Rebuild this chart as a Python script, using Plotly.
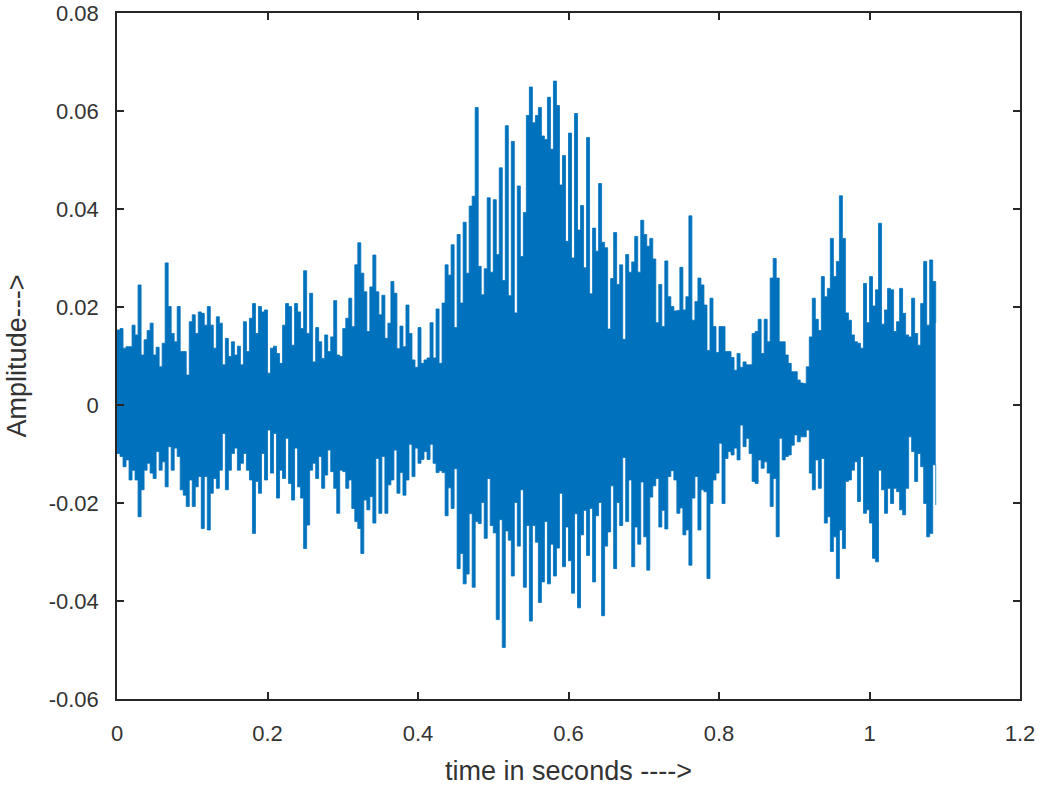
import numpy as np
import plotly.graph_objects as go

fs_block = 250  # blocks per second

hi = [
    .0153, .0156, .0116, .0119, .0119, .0163, .0143, .0245, .0102, .0133,
    .0152, .0167, .0102, .0118, .0078, .0126, .0290, .0201, .0146, .0129,
    .0201, .0109, .0109, .0061, .0170, .0184, .0146, .0190, .0187, .0163,
    .0201, .0163, .0116, .0180, .0167, .0082, .0136, .0099, .0129, .0102,
    .0120, .0082, .0170, .0109, .0177, .0207,
    .0146, .0201, .0190, .0194, .0065, .0116, .0120, .0105, .0085, .0163,
    .0207, .0201, .0122, .0207, .0190, .0156, .0274, .0146, .0228, .0088,
    .0158, .0129, .0095, .0143, .0109, .0139, .0213, .0102, .0099, .0156,
    .0177, .0218, .0160, .0286, .0331, .0269, .0231, .0150, .0241, .0306,
    .0231, .0184, .0224, .0136, .0167, .0252, .0228,
    .0115, .0161, .0119, .0204, .0146, .0092, .0077, .0158, .0085, .0092,
    .0096, .0168, .0096, .0196, .0085, .0208, .0286, .0265, .0327, .0158,
    .0348, .0208, .0373, .0269, .0406, .0426, .0607, .0283, .0225, .0278,
    .0423, .0271, .0419, .0307, .0484, .0254, .0570, .0223, .0538, .0188,
    .0447, .0303, .0393, .0591, .0649, .0576,
    .0591, .0607, .0549, .0542, .0628, .0522, .0661, .0611, .0449, .0509,
    .0334, .0555, .0300, .0595, .0357, .0407, .0280, .0546, .0227, .0361,
    .0314, .0452, .0332, .0321, .0155, .0258, .0352, .0246, .0286, .0134,
    .0307, .0271, .0292, .0344, .0271, .0377, .0348, .0324, .0340, .0298,
    .0168, .0246, .0160, .0294, .0221, .0201, .0192,
    .0193, .0281, .0194, .0221, .0386, .0173, .0211, .0259, .0245, .0204,
    .0111, .0218, .0160, .0107, .0160, .0160, .0109, .0109, .0097, .0071,
    .0105, .0077, .0088, .0082, .0082, .0146, .0150, .0175, .0105, .0175,
    .0129, .0259, .0299, .0259, .0129, .0129, .0102, .0085, .0068, .0068,
    .0051, .0045, .0044, .0078, .0139, .0218,
    .0175, .0152, .0262, .0221, .0238, .0340, .0262, .0293, .0427, .0340,
    .0188, .0173, .0143, .0129, .0126, .0116, .0248, .0168, .0262, .0202,
    .0235, .0371, .0165, .0194, .0238, .0235, .0150, .0170, .0238, .0187,
    .0143, .0139, .0218, .0146, .0122, .0207, .0293, .0163, .0296, .0252,
    .0167,
]

lo = [
    -.0099, -.0105, -.0126, -.0112, -.0153, -.0133, -.0153, -.0228, -.0173, -.0133,
    -.0119, -.0139, -.0150, -.0095, -.0133, -.0116, -.0167, -.0085, -.0133, -.0088,
    -.0105, -.0173, -.0184, -.0207, -.0153, -.0207, -.0167, -.0146, -.0252, -.0146,
    -.0255, -.0180, -.0150, -.0170, -.0133, -.0058, -.0173, -.0133, -.0099, -.0088,
    -.0133, -.0119, -.0099, -.0133, -.0153, -.0262,
    -.0156, -.0180, -.0099, -.0153, -.0051, -.0139, -.0058, -.0190, -.0133, -.0150,
    -.0068, -.0160, -.0194, -.0088, -.0167, -.0190, -.0293, -.0245, -.0133, -.0119,
    -.0150, -.0105, -.0170, -.0143, -.0092, -.0136, -.0170, -.0221, -.0133, -.0136,
    -.0170, -.0153, -.0211, -.0238, -.0252, -.0303, -.0194, -.0214, -.0187, -.0241,
    -.0109, -.0221, -.0105, -.0221, -.0163, -.0153, -.0092,
    -.0180, -.0138, -.0184, -.0153, -.0080, -.0146, -.0088, -.0119, -.0111, -.0095,
    -.0111, -.0080, -.0119, -.0138, -.0134, -.0138, -.0226, -.0169, -.0211, -.0130,
    -.0334, -.0303, -.0365, -.0345, -.0222, -.0372, -.0238, -.0242, -.0199, -.0272,
    -.0150, -.0246, -.0261, -.0438, -.0234, -.0495, -.0257, -.0276, -.0349, -.0199,
    -.0288, -.0173, -.0372, -.0246, -.0441, -.0246,
    -.0280, -.0403, -.0361, -.0238, -.0365, -.0284, -.0349, -.0292, -.0180, -.0330,
    -.0249, -.0318, -.0384, -.0222, -.0414, -.0265, -.0215, -.0307, -.0211, -.0361,
    -.0226, -.0199, -.0430, -.0288, -.0259, -.0165, -.0334, -.0199, -.0246, -.0107,
    -.0238, -.0153, -.0330, -.0249, -.0284, -.0157, -.0269, -.0337, -.0188, -.0165,
    -.0150, -.0249, -.0215, -.0253, -.0146, -.0134, -.0153,
    -.0221, -.0210, -.0265, -.0255, -.0327, -.0190, -.0146, -.0255, -.0173, -.0177,
    -.0354, -.0201, -.0153, -.0139, -.0078, -.0201, -.0109, -.0095, -.0102, -.0088,
    -.0112, -.0041, -.0085, -.0068, -.0099, -.0156, -.0160, -.0112, -.0129, -.0116,
    -.0139, -.0207, -.0150, -.0269, -.0068, -.0112, -.0105, -.0102, -.0082, -.0061,
    -.0075, -.0065, -.0065, -.0051, -.0139, -.0173,
    -.0112, -.0170, -.0109, -.0241, -.0228, -.0299, -.0269, -.0354, -.0255, -.0293,
    -.0156, -.0153, -.0133, -.0116, -.0197, -.0105, -.0221, -.0214, -.0241, -.0313,
    -.0320, -.0133, -.0173, -.0221, -.0170, -.0201, -.0170, -.0177, -.0214, -.0224,
    -.0170, -.0065, -.0095, -.0156, -.0099, -.0126, -.0201, -.0269, -.0262, -.0122,
    -.0204,
]

t = np.arange(len(hi)) / fs_block

xticks = [0, 0.2, 0.4, 0.6, 0.8, 1.0, 1.2]
xtick_text = ["0", "0.2", "0.4", "0.6", "0.8", "1", "1.2"]
yticks = [-0.06, -0.04, -0.02, 0, 0.02, 0.04, 0.06, 0.08]
ytick_text = ["-0.06", "-0.04", "-0.02", "0", "0.02", "0.04", "0.06", "0.08"]

blue = "#0072BD"
ink = "#262626"
txt = "#333333"
font_family = "Liberation Sans, Arial, sans-serif"

fig = go.Figure()
fig.add_trace(go.Scatter(x=t, y=lo, mode="lines", line=dict(color=blue, width=0.8, shape="hv"),
                         hoverinfo="skip", showlegend=False))
fig.add_trace(go.Scatter(x=t, y=hi, mode="lines", line=dict(color=blue, width=0.8, shape="hv"),
                         fill="tonexty", fillcolor=blue, showlegend=False))

axis_common = dict(
    showline=True, linecolor=ink, linewidth=1.6, mirror="ticks",
    ticks="inside", ticklen=7, tickwidth=1.5, tickcolor=ink,
    showgrid=False, zeroline=False, automargin=False, ticklabeloverflow="allow",
    tickfont=dict(family=font_family, size=22, color=txt),
)

fig.update_layout(
    width=1040, height=787,
    margin=dict(l=117, r=20, t=13, b=88),
    plot_bgcolor="white", paper_bgcolor="white",
    xaxis=dict(range=[0, 1.2], tickvals=xticks, ticktext=xtick_text,
               title=dict(text="time in seconds ---->", standoff=16,
                          font=dict(family=font_family, size=27, color=txt)),
               ticklabelstandoff=14, **axis_common),
    yaxis=dict(range=[-0.06, 0.08], tickvals=yticks, ticktext=ytick_text,
               title=dict(text="Amplitude--->", standoff=14,
                          font=dict(family=font_family, size=27, color=txt)),
               ticklabelstandoff=12, **axis_common),
)

# drop the default body margin so the figure fills the window exactly
fig.write_html(
    "out.html",
    config={"displayModeBar": False},
    post_script="document.body.style.margin='0';document.body.style.overflow='hidden';",
)
